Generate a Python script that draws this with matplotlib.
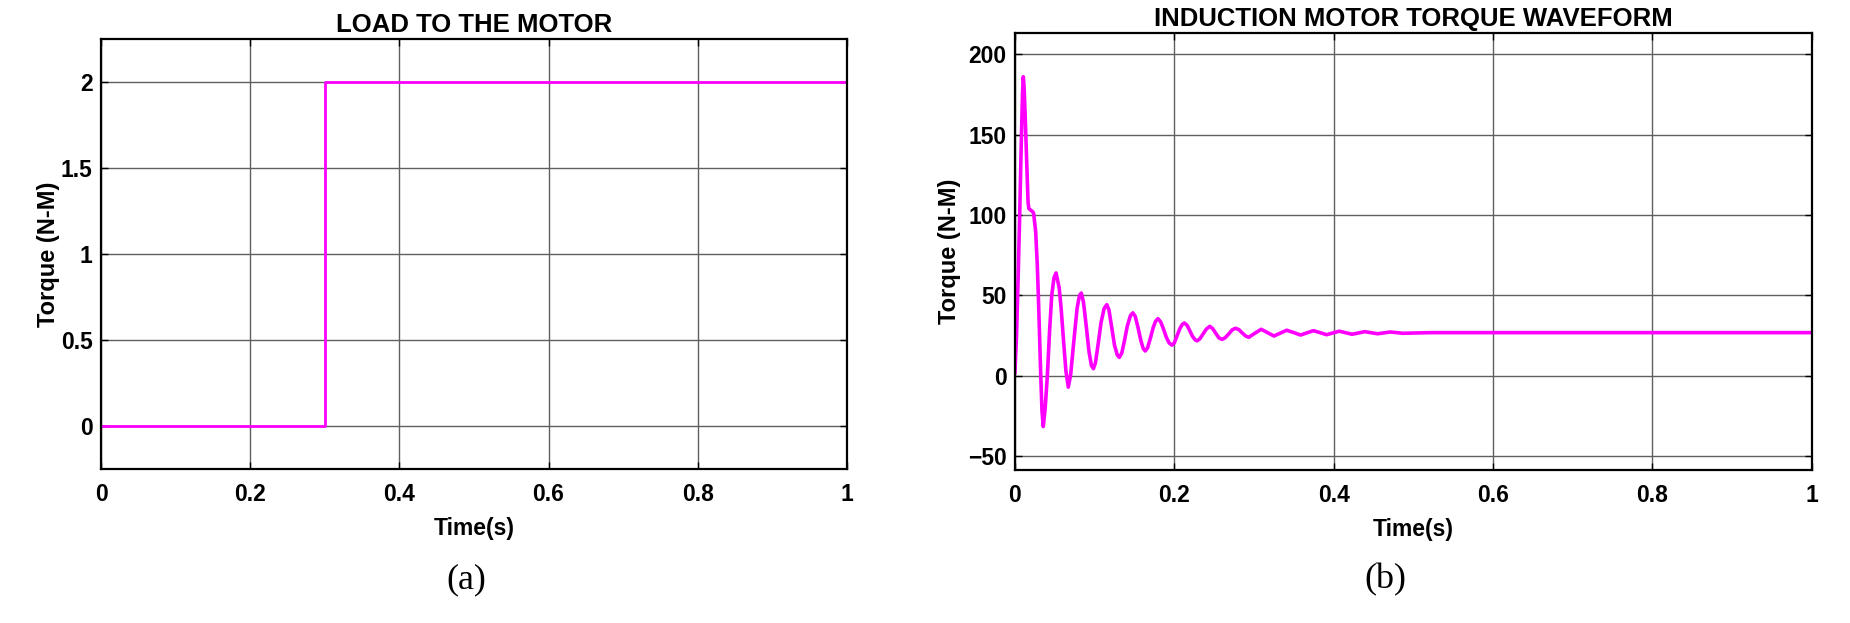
import matplotlib
matplotlib.use("Agg")
import matplotlib.pyplot as plt

plt.rcParams['font.family'] = ['Liberation Sans', 'DejaVu Sans']
plt.rcParams['font.weight'] = 'bold'

# (a) load torque step
t_load = [0.0, 0.3, 0.3, 1.0]
load = [0.0, 0.0, 2.0, 2.0]

# (b) motor torque
t_mot = [0.000, 0.002, 0.004, 0.006, 0.008, 0.0095, 0.0105, 0.0115, 0.013, 0.015,
         0.0165, 0.0175, 0.020, 0.0225, 0.0235, 0.026, 0.028, 0.0294, 0.031, 0.0323,
         0.034, 0.0356, 0.038, 0.0407, 0.0435, 0.0462, 0.049, 0.0516, 0.0555, 0.058,
         0.061, 0.064, 0.067, 0.070, 0.074, 0.078, 0.081, 0.0833, 0.086, 0.0895,
         0.093, 0.096, 0.0985, 0.101, 0.1045, 0.108, 0.112, 0.1153, 0.118, 0.1215,
         0.125, 0.1285, 0.131, 0.134, 0.1375, 0.141, 0.145, 0.148, 0.151, 0.1545,
         0.158, 0.161, 0.1635, 0.1665, 0.170, 0.1735, 0.1765, 0.1795, 0.183, 0.1865,
         0.190, 0.1935, 0.197, 0.200, 0.2035, 0.207, 0.210, 0.2126, 0.216, 0.2195,
         0.223, 0.226, 0.2285, 0.232, 0.236, 0.240, 0.2445, 0.248, 0.252, 0.256,
         0.260, 0.264, 0.2685, 0.2725, 0.2767, 0.281, 0.285, 0.2895, 0.2935, 0.301,
         0.309, 0.317, 0.325, 0.333, 0.341, 0.350, 0.3585, 0.3665, 0.3745, 0.383,
         0.391, 0.399, 0.407, 0.423, 0.439, 0.455, 0.471, 0.487, 0.52, 1.0]
torque = [2.0, 25.0, 60.0, 100.0, 145.0, 175.0, 186.0, 180.0, 160.0, 130.0,
          108.0, 104.0, 103.0, 102.0, 101.0, 90.0, 70.0, 50.0, 24.0, 2.0,
          -22.0, -31.5, -20.0, 0.0, 28.0, 50.0, 61.0, 64.0, 55.0, 42.0,
          22.0, 3.0, -7.0, 1.0, 22.0, 42.0, 50.0, 51.5, 46.0, 31.0,
          15.0, 6.5, 4.5, 8.0, 20.0, 33.0, 42.0, 44.3, 41.0, 30.0,
          19.0, 13.0, 11.5, 14.0, 22.0, 31.0, 37.5, 39.2, 37.0, 30.0,
          22.0, 17.0, 15.5, 17.5, 23.5, 30.0, 34.0, 35.6, 33.5, 29.0,
          24.0, 20.5, 19.1, 20.5, 25.0, 29.5, 32.0, 32.9, 31.5, 28.0,
          24.5, 22.5, 21.8, 23.0, 26.0, 29.0, 30.8, 29.5, 26.5, 23.6,
          22.7, 23.8, 26.2, 28.6, 29.6, 28.8, 26.8, 24.8, 24.0, 26.5,
          29.0, 26.9, 24.8, 26.6, 28.4, 26.9, 25.4, 26.8, 28.1, 26.9,
          25.6, 26.7, 27.8, 25.9, 27.5, 26.2, 27.3, 26.5, 26.9, 26.9]

titles = ["LOAD TO THE MOTOR", "INDUCTION MOTOR TORQUE WAVEFORM"]
ylab = "Torque (N-M)"
xlab = "Time(s)"
xticks = [0, 0.2, 0.4, 0.6, 0.8, 1]
xticklabels = ["0", "0.2", "0.4", "0.6", "0.8", "1"]

fig = plt.figure(figsize=(18.5, 6.23), dpi=100)
ax1 = fig.add_axes([0.0546, 0.2472, 0.4032, 0.6902])
ax2 = fig.add_axes([0.5486, 0.2456, 0.4308, 0.7022])

ax1.plot(t_load, load, color='#ff00ff', lw=2.0)
ax2.plot(t_mot, torque, color='#ff00ff', lw=2.6)

ax1.set_ylim(-0.25, 2.25)
ax1.set_yticks([0, 0.5, 1, 1.5, 2])
ax1.set_yticklabels(["0", "0.5", "1", "1.5", "2"])
ax2.set_ylim(-58.5, 213.5)
ax2.set_yticks([-50, 0, 50, 100, 150, 200])

for ax, ttl, lp in zip([ax1, ax2], titles, [1, 5]):
    ax.set_xlim(0, 1)
    ax.set_xticks(xticks)
    ax.set_xticklabels(xticklabels)
    ax.grid(True, color='#606060', lw=1.0)
    ax.set_axisbelow(True)
    ax.tick_params(direction='in', length=5, width=1, top=True, right=True,
                   labelsize=16.5, pad=10)
    ax.tick_params(axis='y', pad=6)
    for s in ax.spines.values():
        s.set_linewidth(1.6)
    ax.set_title(ttl, fontsize=18.5, fontweight='bold', pad=5)
    ax.set_xlabel(xlab, fontsize=16.5, fontweight='bold', labelpad=8)
    ax.set_ylabel(ylab, fontsize=17, fontweight='bold', labelpad=lp)

fig.text(466 / 1850, 1 - 580 / 623, "(a)", family='Liberation Serif',
         fontweight='normal', fontsize=26, ha='center', va='center')
fig.text(1385 / 1850, 1 - 580 / 623, "(b)", family='Liberation Serif',
         fontweight='normal', fontsize=26, ha='center', va='center')

fig.savefig("out.png", dpi=100)
